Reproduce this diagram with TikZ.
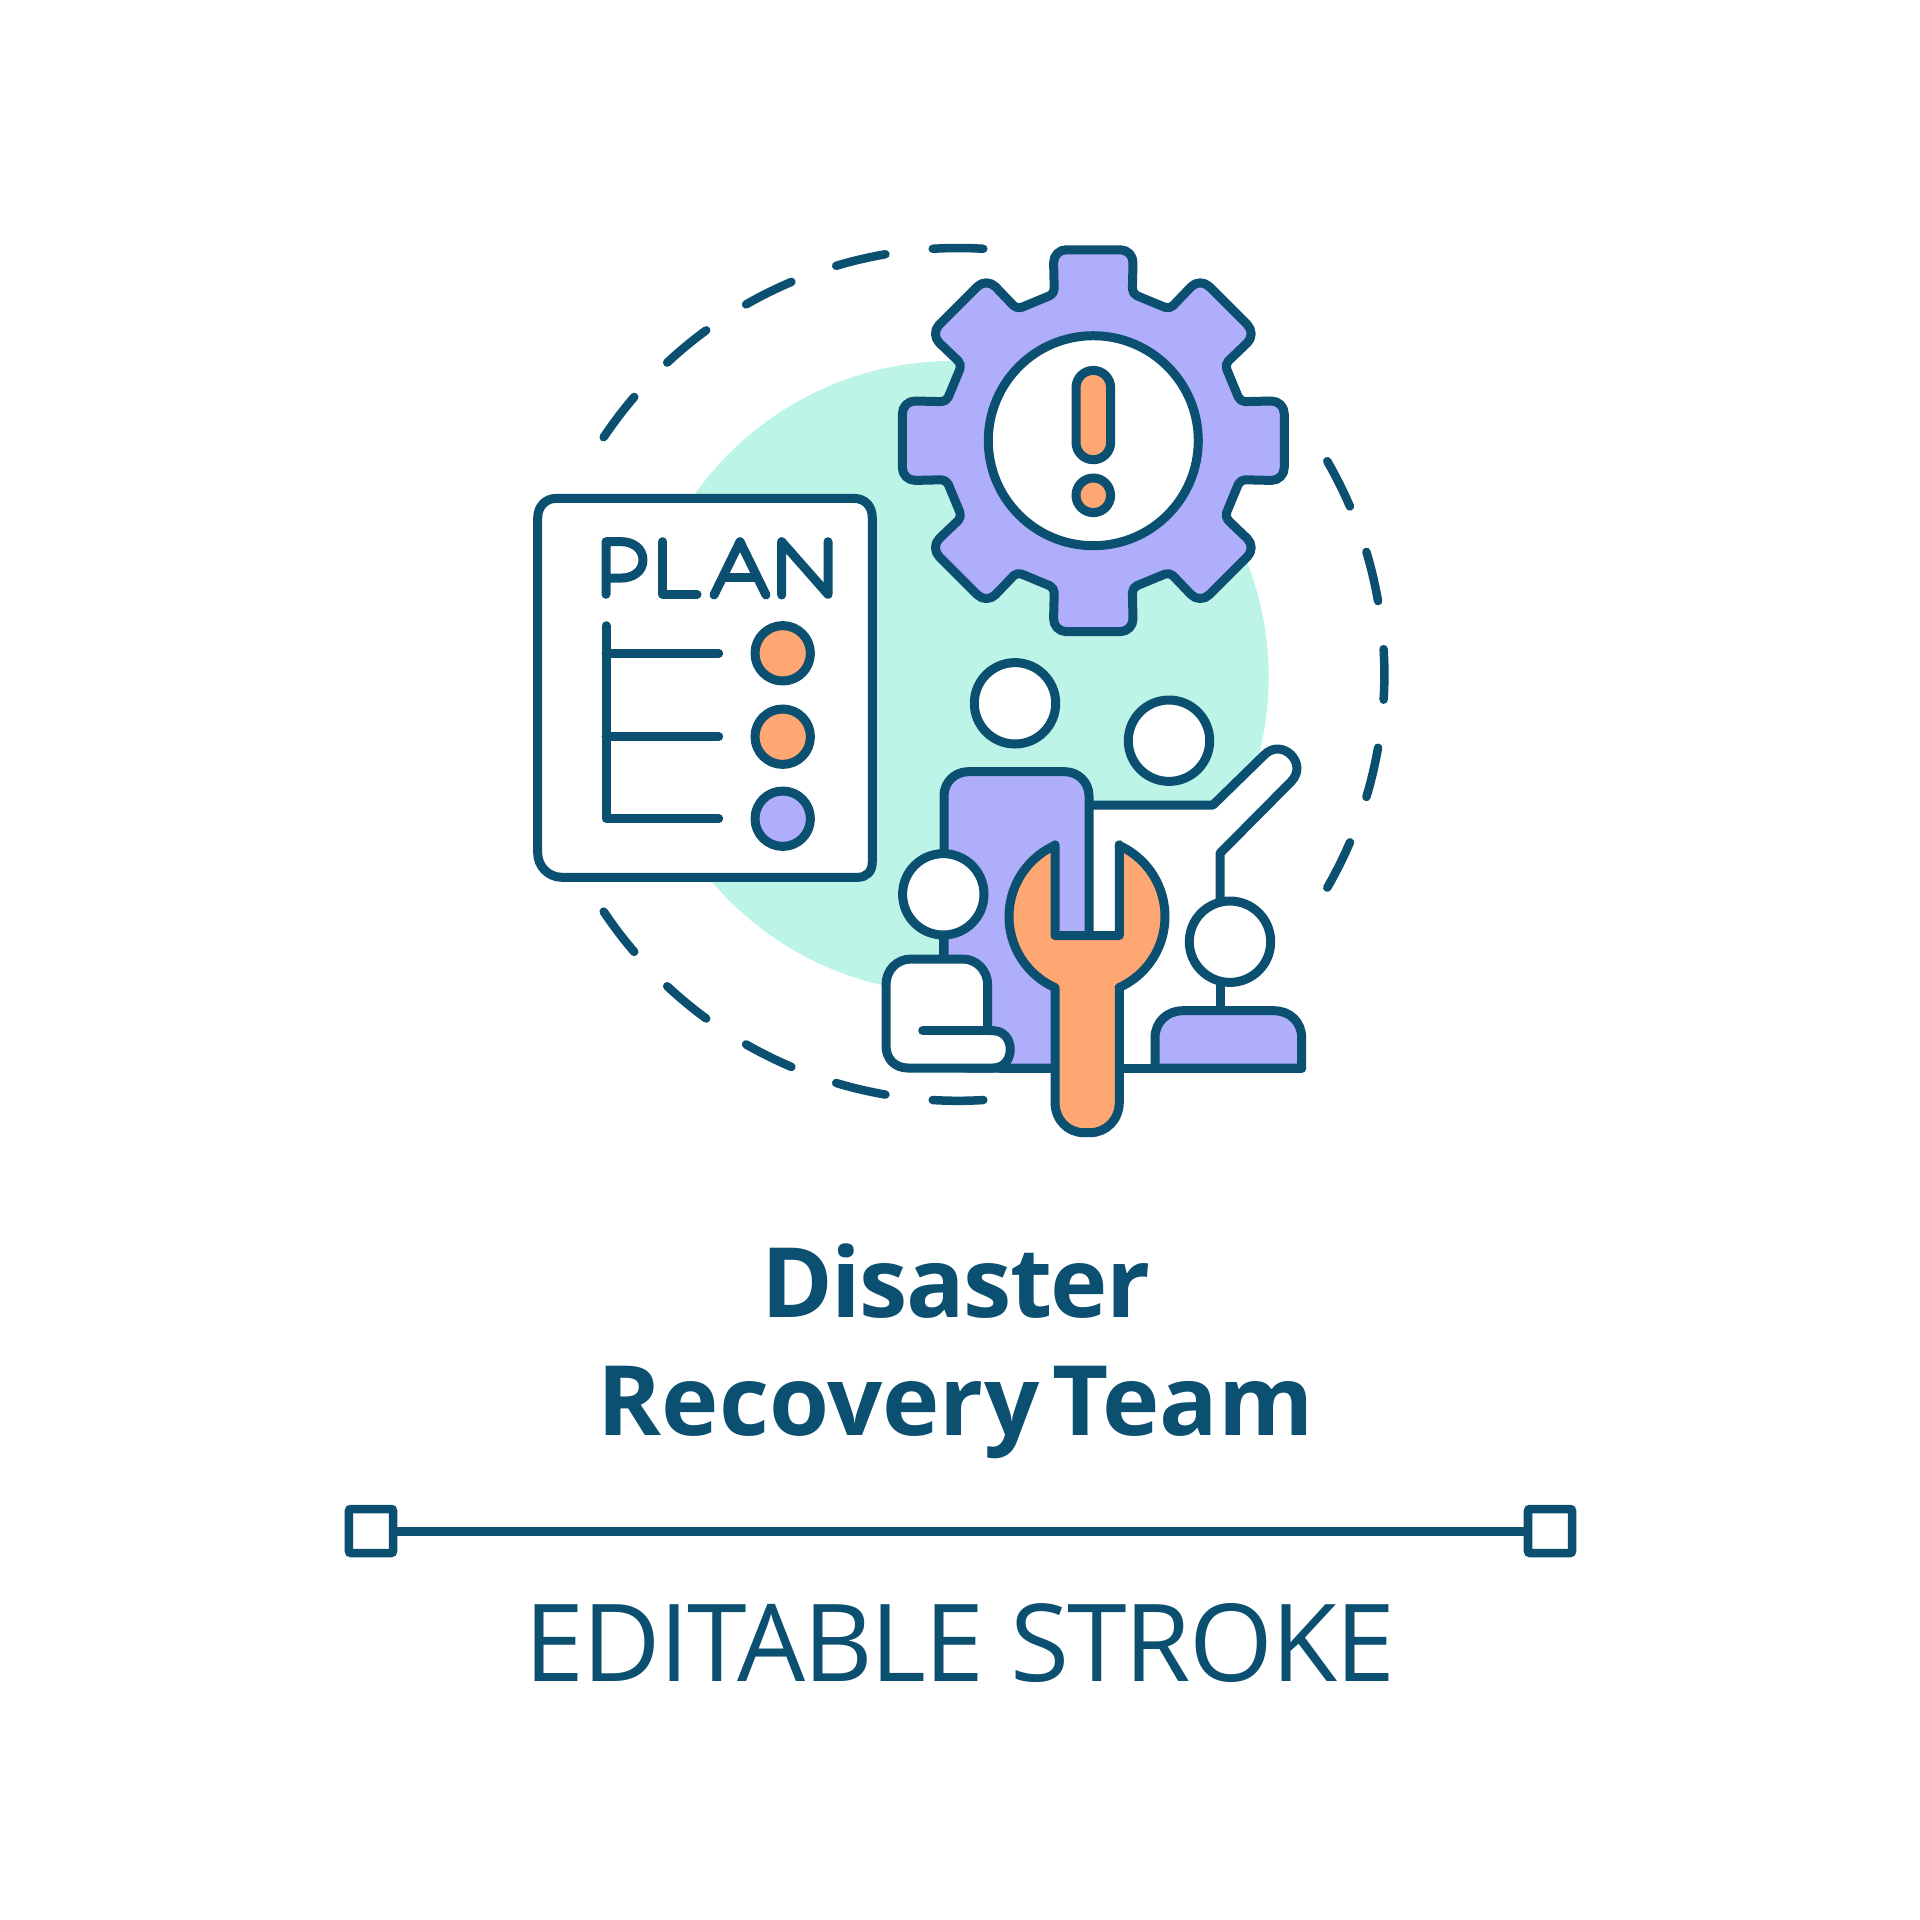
\documentclass[tikz,border=0pt]{standalone}
\usepackage{fontspec}
\setmainfont{Open Sans}
\definecolor{ink}{HTML}{0B4F71}
\definecolor{lav}{HTML}{AFAEFB}
\definecolor{org}{HTML}{FEA772}
\definecolor{mint}{HTML}{BDF4E8}
\tikzset{
  stroke/.style={draw=ink,line width=0.09cm,line join=round,line cap=round},
  dashpart/.style={draw=ink,line width=0.085cm,line cap=round},
  whitefill/.style={stroke,fill=white},
  lavfill/.style={stroke,fill=lav},
  orgfill/.style={stroke,fill=org},
  sqbox/.style={draw=ink,line width=0.085cm,minimum size=0.44cm,inner sep=0pt,fill=white,rounded corners=0.02cm},
  titletext/.style={text=ink,anchor=base,inner sep=0pt,font=\bfseries\fontsize{27.6pt}{30pt}\selectfont},
  subtext/.style={text=ink,anchor=base,inner sep=0pt,font=\fontsize{30.6pt}{32pt}\selectfont}
}
\newcommand\gearTooth[1]{ [rounded corners=0.05cm] -- ({#1-14.86}:152) [rounded corners=0.13cm] -- ({#1-11.83}:195.1) -- ({#1+11.83}:195.1) [rounded corners=0.05cm] -- ({#1+14.86}:152)}
\newcommand\dsh[2]{\draw[dashpart] plot[domain=#1:#2,samples=9,smooth] ({958+426.4*cos(\x)},{674.4-426.4*sin(\x)});}
\begin{document}
\begin{tikzpicture}[x=0.01cm,y=-0.01cm]
\useasboundingbox (0,0) rectangle (1920,1920);
\fill[white] (0,0) rectangle (1920,1920);
% mint disc
\fill[mint] (952.6,677) circle[radius=316];
% dashed ring
\dsh{86.6}{93.4}\dsh{99.8}{106.6}\dsh{113}{119.8}\dsh{126.2}{133}\dsh{139.4}{146.2}
\dsh{213.8}{220.6}\dsh{227}{233.8}\dsh{240.2}{247}\dsh{253.4}{260.2}\dsh{266.6}{273.4}
\dsh{23.2}{30}\dsh{9.9}{16.7}\dsh{-3.4}{3.4}\dsh{-16.7}{-9.9}\dsh{-30}{-23.2}
% gear
\begin{scope}[shift={(1093.3,440.7)}]
\draw[lavfill] (22.5:150.6) \gearTooth{45}\gearTooth{90}\gearTooth{135}\gearTooth{180}\gearTooth{225}\gearTooth{270}\gearTooth{315}\gearTooth{0} -- cycle;
\draw[whitefill] (0,0) circle[radius=105];
\end{scope}
\draw[orgfill,rounded corners=0.172cm] (1076,370.4) rectangle (1110.6,459.7);
\draw[orgfill] (1093.3,495.3) circle[radius=17.3];
% plan sheet
\draw[whitefill] (537.7,518) .. controls (537.7,506) and (546,498.4) .. (556,498.4) -- (854,498.4) .. controls (865,498.4) and (872.3,506) .. (872.3,518) -- (872.3,862) .. controls (872.3,872) and (866,877.3) .. (858,877.3) -- (562,877.3) .. controls (548,877.3) and (537.7,866) .. (537.7,853) -- cycle;
% PLAN letters
\draw[stroke] (606,594.3) -- (606,541.7) -- (622,541.7) .. controls (632,541.7) and (643,548) .. (643,560) .. controls (643,572) and (632,578) .. (622,578) -- (606,578);
\draw[stroke] (662.7,541.7) -- (662.7,594.3) -- (697,594.3);
\draw[stroke] (714,595) -- (740,541.7) -- (766,595);
\draw[stroke] (723,577) -- (757,577);
\draw[stroke] (781.7,595) -- (781.7,541.7) -- (828,594.3) -- (828,541.7);
% list
\draw[stroke] (606,625.7) -- (606,818.7) -- (718.7,818.7);
\draw[stroke] (606,653.3) -- (718.7,653.3);
\draw[stroke] (606,736.7) -- (718.7,736.7);
\draw[orgfill] (782.7,653.3) circle[radius=27.7];
\draw[orgfill] (782.7,736.7) circle[radius=27.7];
\draw[lavfill] (782.7,818.7) circle[radius=27.7];
% right figure arm and body
\fill[white] (1090,805) -- (1213,805) -- (1264.3,754.9) .. controls (1282.2,737) and (1308.9,763.8) .. (1291,781.7) -- (1220,853.3) -- (1220,1068) -- (1090,1068) -- cycle;
\draw[stroke] (1090,805) -- (1213,805) -- (1264.3,754.9) .. controls (1282.2,737) and (1308.9,763.8) .. (1291,781.7) -- (1220,853.3) -- (1220,900);
% tall torso
\draw[lavfill,rounded corners=0.24cm] (944,1068) -- (944,771.7) -- (1089,771.7) -- (1089,1068) -- cycle;
% heads
\draw[whitefill] (1015,703.3) circle[radius=40.7];
\draw[whitefill] (1169,740.7) circle[radius=40.7];
\draw[stroke] (943.3,930) -- (943.3,960);
\draw[whitefill] (943.3,894.3) circle[radius=40.7];
% small left figure
\draw[whitefill] (987.7,1030.7) -- (987.7,985) .. controls (987.7,970) and (976,959) .. (963,959) -- (911,959) .. controls (897,959) and (886,970) .. (886,985) -- (886,1046) .. controls (886,1059) and (895,1068) .. (908,1068) -- (993,1068) .. controls (1016,1068) and (1016,1030.7) .. (993,1030.7) -- cycle;
\draw[stroke] (922.7,1030.7) -- (993,1030.7);
% right seated figure
\draw[stroke] (1220,980) -- (1220,1010);
\draw[whitefill] (1230,941.7) circle[radius=40.7];
\draw[lavfill] (1155,1068) -- (1155,1038) .. controls (1155,1022) and (1167,1010.7) .. (1183,1010.7) -- (1274,1010.7) .. controls (1290,1010.7) and (1301.7,1022) .. (1301.7,1038) -- (1301.7,1068) -- cycle;
\draw[stroke] (1000,1068) -- (1301.7,1068);
% wrench
\draw[orgfill] (1055,1100) -- (1055,988.2) -- plot[domain=114.2:245.8,samples=40] ({1087+78*cos(\x)},{916.5+78*sin(\x)}) -- (1055,844.8) -- (1055,935.5) -- (1119.3,935.5) -- (1119.3,844.8) -- plot[domain=-65.8:65.8,samples=40] ({1087+78*cos(\x)},{916.5+78*sin(\x)}) -- (1119.3,988.2) -- (1119.3,1102) .. controls (1119.3,1120) and (1106,1132.7) .. (1090,1132.7) -- (1084,1132.7) .. controls (1068,1132.7) and (1055,1120) .. (1055,1102) -- cycle;
% title
\node[titletext] (t1) at (956,1317) {\addfontfeatures{LetterSpace=-1.6}Disaster};
\node[titletext] (t2) at (955.7,1435) {Recovery\hspace{-0.12em} Team};
% rule
\node[sqbox] (sqa) at (371,1531) {};
\node[sqbox] (sqb) at (1550,1531) {};
\draw[ink,line width=0.09cm] (sqa) -- (sqb);
\node[subtext] (t3) at (960,1681) {\addfontfeatures{LetterSpace=-1.9}EDITABLE STROKE};
\end{tikzpicture}
\end{document}
